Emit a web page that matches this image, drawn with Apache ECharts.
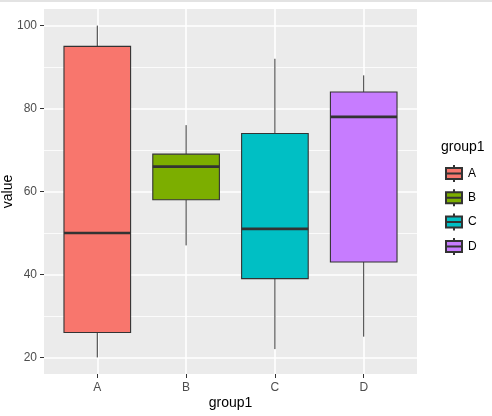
<!DOCTYPE html>
<html>
<head>
<meta charset="utf-8">
<script src="https://cdn.jsdelivr.net/npm/echarts@6/dist/echarts.min.js"></script>
<style>
  html, body { margin: 0; padding: 0; background: #fff; }
  #chart { width: 492px; height: 416px; }
</style>
</head>
<body>
<div id="chart"></div>
<script>
// 数据：每组的五数概括
const categories = ['A', 'B', 'C', 'D'];
const minVals = [20, 47, 22, 25];
const q1Vals = [26, 58, 39, 43];
const medianVals = [50, 66, 51, 78];
const q3Vals = [95, 69, 74, 84];
const maxVals = [100, 76, 92, 88];
const majorTicks = [20, 40, 60, 80, 100];
const minorTicks = [30, 50, 70, 90];

// ggplot 默认配色
const palette = ['#F8766D', '#7CAE00', '#00BFC4', '#C77CFF'];
const lineColor = '#333333';

const chart = echarts.init(document.getElementById('chart'));

function renderBox(params, api) {
    const x = api.value(0);
    const lo = api.coord([x, api.value(1)]);
    const q1 = api.coord([x, api.value(2)]);
    const med = api.coord([x, api.value(3)]);
    const q3 = api.coord([x, api.value(4)]);
    const hi = api.coord([x, api.value(5)]);
    const w = api.size([0.75, 0])[0];
    const fill = api.visual('color');
    return {
        type: 'group',
        children: [
            {type: 'line', shape: {x1: lo[0], y1: lo[1], x2: q1[0], y2: q1[1]}, style: {stroke: lineColor, lineWidth: 1}},
            {type: 'line', shape: {x1: q3[0], y1: q3[1], x2: hi[0], y2: hi[1]}, style: {stroke: lineColor, lineWidth: 1}},
            {type: 'rect', shape: {x: q3[0] - w / 2, y: q3[1], width: w, height: q1[1] - q3[1]}, style: {fill: fill, stroke: lineColor, lineWidth: 1.1}},
            {type: 'line', shape: {x1: med[0] - w / 2, y1: med[1], x2: med[0] + w / 2, y2: med[1]}, style: {stroke: lineColor, lineWidth: 2.6}}
        ]
    };
}

const series = categories.map(function (name, i) {
    return {
        name: name,
        type: 'custom',
        renderItem: renderBox,
        itemStyle: {color: palette[i], borderColor: lineColor, borderWidth: 1},
        encode: {x: 0, y: [1, 2, 3, 4, 5]},
        data: [[i + 1, minVals[i], q1Vals[i], medianVals[i], q3Vals[i], maxVals[i]]]
    };
});

const option = {
    animation: false,
    textStyle: {fontFamily: 'Liberation Sans, Arial, sans-serif'},
    graphic: [{
        type: 'rect', left: 0, top: 0, shape: {width: 492, height: 2},
        style: {fill: '#E3E3E3'}, silent: true
    }],
    title: {
        text: 'group1',
        left: 436,
        top: 135,
        textStyle: {fontSize: 14, fontWeight: 'normal', color: '#000'}
    },
    legend: {
        orient: 'vertical',
        left: 440,
        top: 159,
        itemWidth: 18,
        itemHeight: 17,
        itemGap: 5.3,
        icon: 'path://M9,0V3M9,14V17M1,3H17V14H1ZM1,8.5H17',
        textStyle: {fontSize: 12, color: '#000'},
        data: categories
    },
    grid: {
        left: 44,
        right: 75,
        top: 9,
        bottom: 42,
        containLabel: false,
        outerBoundsMode: 'none',
        show: true,
        backgroundColor: '#EBEBEB',
        borderWidth: 0
    },
    xAxis: {
        type: 'value',
        min: 0.4,
        max: 4.6,
        name: 'group1',
        nameLocation: 'middle',
        nameGap: 22,
        nameMoveOverlap: false,
        nameTextStyle: {fontSize: 14, color: '#000'},
        axisLine: {show: false},
        axisTick: {show: true, length: 4, lineStyle: {color: lineColor}, customValues: [1, 2, 3, 4]},
        axisLabel: {
            fontSize: 12, color: '#4D4D4D', margin: 8,
            customValues: [1, 2, 3, 4],
            formatter: function (v) { return categories[Math.round(v) - 1]; }
        },
        splitLine: {show: true, lineStyle: {color: '#FFFFFF', width: 1.6}}
    },
    yAxis: [{
        type: 'value',
        min: 16,
        max: 104,
        name: 'value',
        nameLocation: 'middle',
        nameGap: 29,
        nameMoveOverlap: false,
        nameTextStyle: {fontSize: 14, color: '#000'},
        axisLine: {show: false},
        axisTick: {show: true, length: 4, lineStyle: {color: lineColor}, customValues: majorTicks},
        axisLabel: {fontSize: 12, color: '#4D4D4D', margin: 7, customValues: majorTicks},
        splitLine: {show: true, lineStyle: {color: '#FFFFFF', width: 1.6}}
    }, {
        type: 'value',
        min: 16,
        max: 104,
        position: 'left',
        axisLine: {show: false},
        axisTick: {show: false, customValues: minorTicks},
        axisLabel: {show: false, customValues: minorTicks},
        splitLine: {show: true, lineStyle: {color: '#FFFFFF', width: 0.8}}
    }],
    series: series
};

chart.setOption(option);
</script>
</body>
</html>
